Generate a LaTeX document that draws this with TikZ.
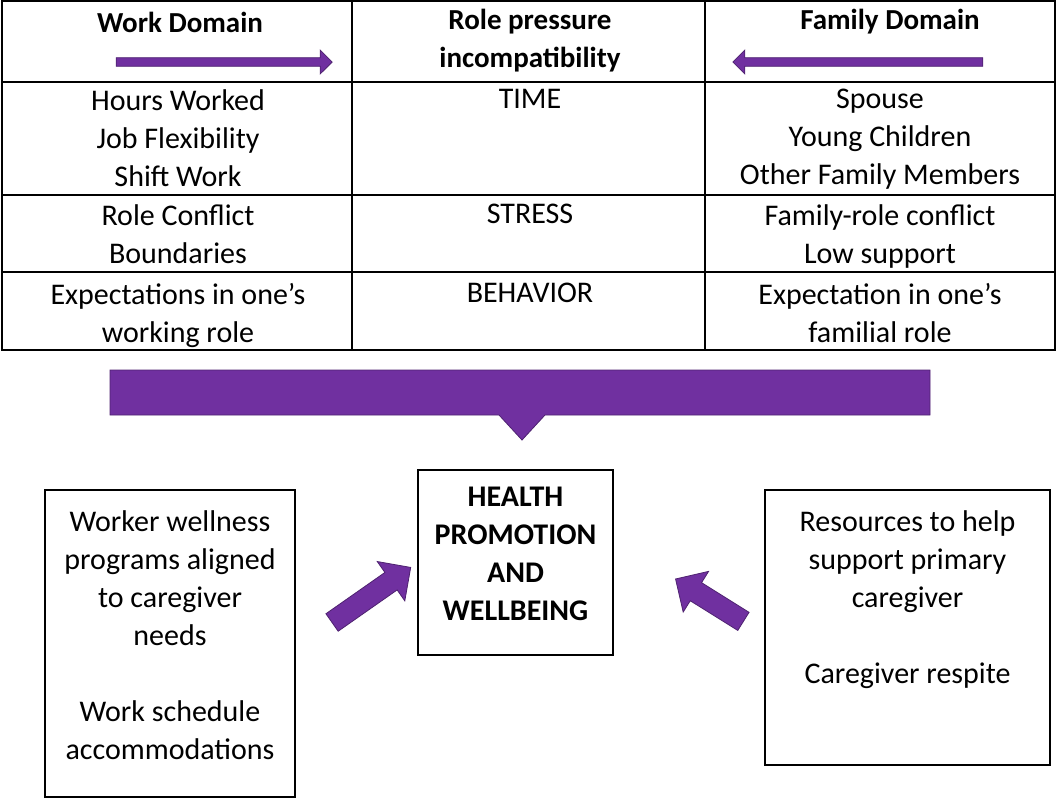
\documentclass[tikz,border=0pt]{standalone}
\usepackage{fontspec}
\setmainfont{Carlito}
\usetikzlibrary{shapes.arrows}
\definecolor{arrowpurple}{RGB}{112,48,160}
\tikzset{
  cell/.style={align=center, font=\fontsize{15}{19}\selectfont, inner sep=0pt},
  head/.style={cell, font=\fontsize{14.5}{19}\selectfont\bfseries},
  box/.style={draw, thick},
  fatarrow/.style={single arrow, fill=arrowpurple, draw=arrowpurple!70!black,
    minimum height=#1, minimum width=24pt, single arrow head extend=4pt, inner sep=3pt}
}
\begin{document}
\begin{tikzpicture}[x=0.5pt, y=-0.5pt]
\useasboundingbox (0,0) rectangle (1059,800);
% table
\draw[thick] (2,1) rectangle (1055,350);
\draw[thick] (352,1) -- (352,350);
\draw[thick] (705,1) -- (705,350);
\draw[thick] (2,82) -- (1055,82);
\draw[thick] (2,195) -- (1055,195);
\draw[thick] (2,272) -- (1055,272);
\node[head] (work) at (180,22) {Work Domain};
\node[head] (role) at (530,41) {Role pressure\\incompatibility};
\node[head] (family) at (890,22) {Family Domain};
\node[fatarrow=108pt, minimum width=12pt, single arrow head extend=3pt, inner sep=1.5pt] (warrow) at (222,62) {};
\node[fatarrow=125pt, minimum width=12pt, single arrow head extend=3pt, inner sep=1.5pt, shape border rotate=180] (farrow) at (860,62) {};
% rows
\node[cell, anchor=north] (w1) at (178,89) {Hours Worked\\Job Flexibility\\Shift Work};
\node[cell, anchor=north] (r1) at (530,89) {TIME};
\node[cell, anchor=north] (f1) at (880,89) {Spouse\\Young Children\\Other Family Members};
\node[cell, anchor=north] (w2) at (178,204) {Role Conflict\\Boundaries};
\node[cell, anchor=north] (r2) at (530,204) {STRESS};
\node[cell, anchor=north] (f2) at (880,204) {Family-role conflict\\Low support};
\node[cell, anchor=north] (w3) at (178,283) {Expectations in one's\\working role};
\node[cell, anchor=north] (r3) at (530,283) {BEHAVIOR};
\node[cell, anchor=north] (f3) at (880,283) {Expectation in one's\\familial role};
% merge arrow
\filldraw[fill=arrowpurple, draw=arrowpurple!70!black]
  (110,370) -- (930,370) -- (930,415) -- (545,415) -- (522,440) -- (499,415)
  -- (110,415) -- cycle;
% boxes
\draw[box] (418,470) rectangle (613,655);
\draw[box] (45,490) rectangle (295,797);
\draw[box] (765,490) rectangle (1050,765);
\node[cell, anchor=north] (health) at (515.5,487)
  {\bfseries HEALTH\\\bfseries PROMOTION\\\bfseries AND\\\bfseries WELLBEING};
\node[cell, anchor=north] (left) at (170,510)
  {Worker wellness\\programs aligned\\to caregiver\\needs\\[19pt]Work schedule\\accommodations};
\node[cell, anchor=north] (right) at (907.5,510)
  {Resources to help\\support primary\\caregiver\\[19pt]Caregiver respite};
\node[fatarrow=48pt, rotate=35] (larrow) at (367,598) {};
\node[fatarrow=40pt, rotate=148] (rarrow) at (714,603) {};
\end{tikzpicture}
\end{document}
